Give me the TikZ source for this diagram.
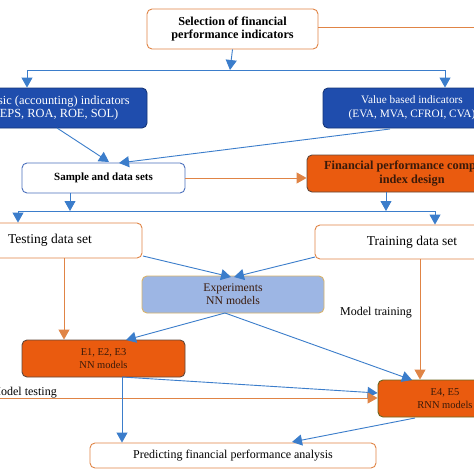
\documentclass[tikz,border=0pt]{standalone}
\usepackage{fontspec}
\setmainfont{Liberation Serif}
\usetikzlibrary{arrows.meta}
\definecolor{arrblue}{HTML}{3B7DCB}
\definecolor{lineor}{HTML}{E08445}
\definecolor{fillor}{HTML}{EA5B0F}
\definecolor{darkblue}{HTML}{1F4DAD}
\definecolor{lightblue}{HTML}{9DB6E4}
\definecolor{gold}{HTML}{D9B46A}
\definecolor{txtdark}{HTML}{3A1A0A}
\tikzset{
  ba/.style={draw=arrblue, line width=0.9pt, -{Triangle[width=11pt,length=10pt]}},
  bl/.style={draw=arrblue, line width=0.9pt},
  oa/.style={draw=lineor, line width=0.9pt, -{Triangle[width=11pt,length=10pt]}},
  ol/.style={draw=lineor, line width=0.9pt},
  wbox/.style={draw=lineor, line width=0.9pt, fill=white, rounded corners=5pt, align=center, inner sep=0pt},
  bbox/.style={draw=darkblue!70!black, line width=0.9pt, fill=darkblue, rounded corners=5pt, align=center, text=white, inner sep=0pt},
  obox/.style={draw=txtdark!80, line width=0.9pt, fill=fillor, rounded corners=5pt, align=center, text=txtdark, inner sep=0pt, font=\fontsize{10.5}{12.5}\selectfont},
  lbl/.style={inner sep=0pt, font=\fontsize{12}{14}\selectfont},
}
\begin{document}
\begin{tikzpicture}[x=1pt,y=-1pt]
\useasboundingbox (0,0) rectangle (474,474);
\clip (0,0) rectangle (474,474);
\fill[white] (0,0) rectangle (474,474);
% boxes
\node[wbox, minimum width=171pt, minimum height=40pt, font=\bfseries\fontsize{12.2}{13.5}\selectfont] (sel) at (232.5,29) {Selection of financial\\performance indicators};
\node[bbox, minimum width=180pt, minimum height=40pt, font=\fontsize{12.4}{13.5}\selectfont] (basic) at (57,108) {Basic (accounting) indicators\\(EPS, ROA, ROE, SOL)};
\node[bbox, minimum width=178pt, minimum height=40pt, font=\fontsize{11.3}{13.5}\selectfont] (value) at (412,108) {Value based indicators\\(EVA, MVA, CFROI, CVA)};
\node[wbox, draw=darkblue!80, minimum width=163pt, minimum height=30pt, font=\bfseries\fontsize{11}{13}\selectfont] (sample) at (103.5,178) {Sample and data sets};
\node[obox, minimum width=210pt, minimum height=37pt, font=\bfseries\fontsize{12.3}{13.5}\selectfont] (fin) at (412,173.5) {Financial performance composite\\index design};
\node[wbox, minimum width=184pt, minimum height=35pt, font=\fontsize{13.5}{15}\selectfont] (test) at (50,240.5) {Testing data set};
\node[wbox, minimum width=194pt, minimum height=34pt, font=\fontsize{13.5}{15}\selectfont] (train) at (412,242) {Training data set};
\node[wbox, draw=gold, fill=lightblue, minimum width=182pt, minimum height=37pt, font=\fontsize{11.7}{13}\selectfont, text=txtdark] (exp) at (233,294.5) {Experiments\\NN models};
\node[obox, minimum width=163pt, minimum height=37pt] (e13) at (103.5,358.5) {E1, E2, E3\\NN models};
\node[obox, draw=olive!70!black, minimum width=134pt, minimum height=37pt] (e45) at (445,398.5) {E4, E5\\RNN models};
\node[wbox, minimum width=286pt, minimum height=25pt, font=\fontsize{12}{14}\selectfont] (pred) at (233,455.5) {Predicting financial performance analysis};
\node[lbl, anchor=west] (mtrain) at (340,313) {Model training};
\node[lbl, anchor=east] (mtest) at (57,393) {Model testing};
% connectors
\coordinate (split1) at (230,70);
\coordinate (l1) at (27,70);
\coordinate (r1) at (445,70);
\coordinate (sfar) at (480,27);
\draw[ol] (sel.east |- sfar) -- (sfar);
\draw[ba] (sel.south) -- (split1);
\draw[bl] (l1) -- (r1);
\draw[ba] (l1) -- (basic.north -| l1);
\draw[ba] (r1) -- (value.north -| r1);
\coordinate (bs) at (57,128);
\coordinate (vs) at (390,129);
\coordinate (sin1) at (109,162);
\coordinate (sin2) at (119,163);
\draw[ba] (bs) -- (sin1);
\draw[ba] (vs) -- (sin2);
\draw[oa] (sample.east) -- (fin.west |- sample.east);
\coordinate (split2) at (70,211);
\coordinate (split3) at (386,211);
\coordinate (l2) at (18,211);
\coordinate (r2) at (435,211);
\draw[ba] (sample.south -| split2) -- (split2);
\draw[ba] (fin.south -| split3) -- (split3);
\draw[bl] (l2) -- (r2);
\draw[ba] (l2) -- (test.north -| l2);
\draw[ba] (r2) -- (train.north -| r2);
\coordinate (tso) at (143,256);
\coordinate (tro) at (315,257);
\coordinate (ein1) at (231,277);
\coordinate (ein2) at (234,277);
\draw[ba] (tso) -- (ein1);
\draw[ba] (tro) -- (ein2);
\coordinate (tx) at (64,0);
\coordinate (rx) at (420,0);
\draw[oa] (test.south -| tx) -- (e13.north -| tx);
\draw[oa] (train.south -| rx) -- (e45.north -| rx);
\coordinate (eo) at (225,313);
\coordinate (e13in) at (126,340);
\coordinate (e45in) at (412,380);
\draw[ba] (eo) -- (e13in);
\draw[ba] (eo) -- (e45in);
\coordinate (e13o) at (122,377);
\coordinate (y393) at (0,393);
\coordinate (mtl) at (-5,398);
\draw[ba] (e13o) -- (e45.west |- y393);
\draw[oa] (mtl) -- (e45.west |- mtl);
\draw[ba] (e13o) -- (pred.north -| e13o);
\coordinate (e45o) at (415,418);
\coordinate (pin) at (292,442);
\draw[ba] (e45o) -- (pin);
\end{tikzpicture}
\end{document}
